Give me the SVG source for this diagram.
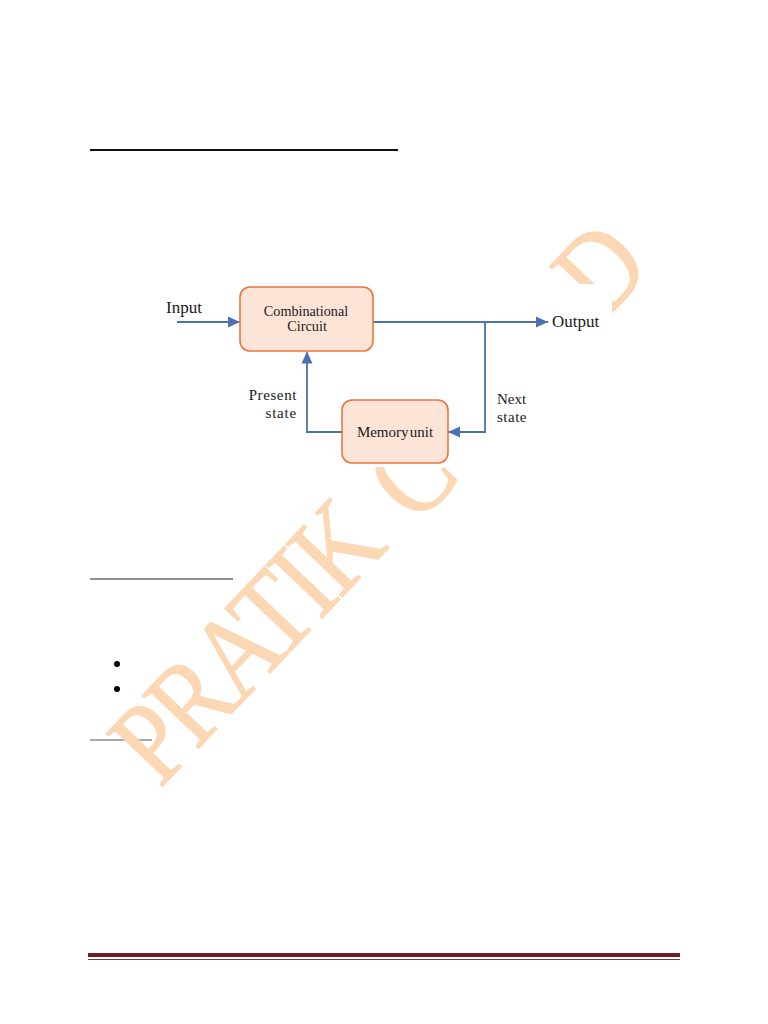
<svg xmlns="http://www.w3.org/2000/svg" width="768" height="1024" viewBox="0 0 768 1024">
  <style>
    .wm { font-family: "Liberation Serif", "Times New Roman", serif; font-size: 118px; fill: #fcd7b4; stroke: #fcd7b4; stroke-width: 1.2; }
    .box { fill: #fde4d7; stroke: #e8773f; stroke-width: 1.6; }
    .lbl { font-family: "Liberation Serif", "Times New Roman", serif; fill: #1a1a1a; }
    .wire { fill: none; stroke: #4a72b2; stroke-width: 1.8; }
  </style>
  <defs>
    <marker id="arrow" markerUnits="userSpaceOnUse" markerWidth="13" markerHeight="12" refX="12" refY="6" orient="auto">
      <path d="M0,0.5 L12,6 L0,11.5 z" fill="#4a72b2"/>
    </marker>
  </defs>
  <rect width="768" height="1024" fill="#ffffff"/>

  <!-- page rules -->
  <line x1="90" y1="150" x2="398" y2="150" stroke="#111111" stroke-width="2"/>
  <line x1="90" y1="579" x2="233" y2="579" stroke="#222222" stroke-width="1"/>
  <circle cx="117" cy="664" r="3" fill="#000000"/>
  <circle cx="117" cy="689" r="3" fill="#000000"/>
  <line x1="90" y1="740" x2="152" y2="740" stroke="#555555" stroke-width="1"/>

  <!-- watermark -->
  <g id="watermark" transform="translate(160,789) rotate(-46.5) scale(0.85,1)">
    <text class="wm" x="0" y="0" letter-spacing="-4">PRATIK</text>
    <text class="wm" x="432" y="5">C</text>
    <text class="wm" x="758" y="0">D</text>
  </g>

  <!-- diagram picture background -->
  <rect x="158" y="284" width="454" height="183" fill="#ffffff"/>

  <g id="connectors">
    <path class="wire" d="M177,322 H240" marker-end="url(#arrow)"/>
    <path class="wire" d="M373,322 H548" marker-end="url(#arrow)"/>
    <path class="wire" d="M485,322 V432 H448" marker-end="url(#arrow)"/>
    <path class="wire" d="M342,432 H307 V351.5" marker-end="url(#arrow)"/>
  </g>

  <g id="combinational-circuit">
    <rect class="box" x="240" y="287" width="133" height="64" rx="10"/>
    <text class="lbl" x="306" y="316" font-size="14.2" text-anchor="middle">Combinational</text>
    <text class="lbl" x="307" y="331" font-size="14.3" text-anchor="middle">Circuit</text>
  </g>

  <g id="memory-unit">
    <rect class="box" x="342" y="400" width="106" height="63" rx="10"/>
    <text class="lbl" x="395" y="437" font-size="15" text-anchor="middle" word-spacing="-2.5">Memory unit</text>
  </g>

  <g id="labels">
    <text class="lbl" x="166" y="313" font-size="17">Input</text>
    <text class="lbl" x="552" y="327" font-size="17">Output</text>
    <text class="lbl" x="297" y="400" font-size="15" letter-spacing="0.6" text-anchor="end">Present</text>
    <text class="lbl" x="297" y="418" font-size="15" letter-spacing="0.8" text-anchor="end">state</text>
    <text class="lbl" x="497" y="404" font-size="15">Next</text>
    <text class="lbl" x="497" y="422" font-size="15" letter-spacing="0.5">state</text>
  </g>

  <!-- footer rule -->
  <g id="footer">
    <rect x="88" y="953" width="592" height="4" fill="#6b1f24"/>
    <line x1="88" y1="959.5" x2="680" y2="959.5" stroke="#7a3a3e" stroke-width="1"/>
  </g>
</svg>
